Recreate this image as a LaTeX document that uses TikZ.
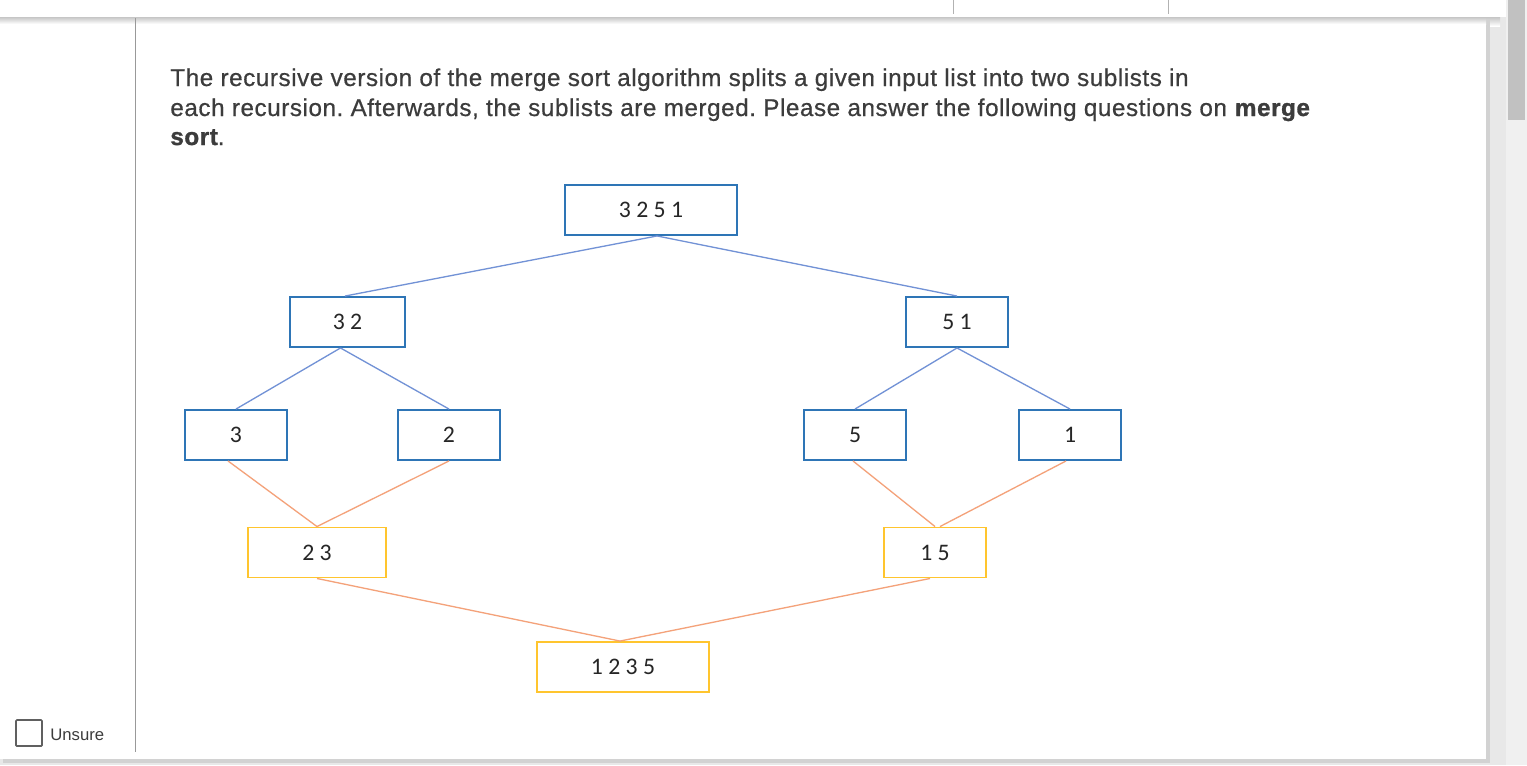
\documentclass[tikz,border=0pt]{standalone}
\usepackage{fontspec}
\setmainfont{Liberation Sans}
\newfontfamily\prosefont[LetterSpace=2.3, FakeBold=0.6, BoldFeatures={FakeBold=1.2}]{Liberation Sans}
\newfontfamily\boxfont{Carlito}
\definecolor{BOXBLUE}{HTML}{2E75B6}
\definecolor{BOXYELLOW}{HTML}{FFC52E}
\definecolor{SPLITLINE}{HTML}{7292D6}
\definecolor{MERGELINE}{HTML}{F4A27A}
\definecolor{TEXTGREY}{HTML}{3C3C3C}
\definecolor{SCROLLBG}{HTML}{F0F0F0}
\definecolor{SCROLLTHUMB}{HTML}{C1C1C1}
\frenchspacing

\tikzset{
  listbox/.style={line width=1.1pt, minimum height=1cm, inner sep=0pt,
    font=\boxfont\fontsize{13.5}{14}\selectfont, text=black!85},
  splitbox/.style={listbox, draw=BOXBLUE},
  mergebox/.style={listbox, draw=BOXYELLOW},
  splitline/.style={SPLITLINE, line width=0.75pt},
  mergeline/.style={MERGELINE, line width=0.75pt},
  prose/.style={anchor=base west, inner sep=0pt, text=TEXTGREY,
    font=\prosefont\fontsize{13.8}{15}\selectfont}
}

\begin{document}
\begin{tikzpicture}[x=0.02cm, y=-0.02cm]
  \useasboundingbox (0,0) rectangle (1527,765);
  % page frame
  \fill[gray!18] (0,0) rectangle (1527,765);
  \fill[white] (0,0) rectangle (1507,17);
  \shade[top color=gray!45, bottom color=white] (0,17) rectangle (1500,26);
  \fill[gray!35] (3,20) rectangle (1490,763);
  \fill[white] (0,18) rectangle (1486,759);
  \shade[top color=gray!45, bottom color=white] (0,17) rectangle (1486,24);
  \draw[gray!60, line width=0.4pt] (953,0) -- (953,14);
  \draw[gray!60, line width=0.4pt] (1168,0) -- (1168,14);
  \draw[gray!80, line width=0.5pt] (135,18) -- (135,752);
  \fill[SCROLLBG] (1506,0) rectangle (1527,765);
  \fill[SCROLLTHUMB] (1508,0) rectangle (1525,120);

  % question text
  \node[prose] (line1) at (170,86) {The recursive version of the merge sort algorithm splits a given input list into two sublists in};
  \node[prose] (line2) at (170,116) {each recursion. Afterwards, the sublists are merged. Please answer the following questions on \textbf{merge}};
  \node[prose] (line3) at (170,145) {\textbf{sort}.};

  % split tree
  \node[splitbox, minimum width=3.44cm] (top) at (651,210) {3 2 5 1};
  \node[splitbox, minimum width=2.3cm] (left) at (347.5,322) {3 2};
  \node[splitbox, minimum width=2.04cm] (right) at (957,322) {5 1};
  \node[splitbox, minimum width=2.04cm] (three) at (236,435) {3};
  \node[splitbox, minimum width=2.04cm] (two) at (449,435) {2};
  \node[splitbox, minimum width=2.04cm] (five) at (855,435) {5};
  \node[splitbox, minimum width=2.04cm] (one) at (1070,435) {1};

  % merge tree
  \node[mergebox, minimum width=2.76cm] (lmerge) at (317,552.5) {2 3};
  \node[mergebox, minimum width=2.04cm] (rmerge) at (935,552.5) {1 5};
  \node[mergebox, minimum width=3.44cm] (sorted) at (623,667) {1 2 3 5};

  \draw[splitline] ([xshift=0.12cm]top.south) -- ([xshift=-0.05cm]left.north);
  \draw[splitline] ([xshift=0.12cm]top.south) -- (right.north);
  \draw[splitline] ([xshift=-0.14cm]left.south) -- (three.north);
  \draw[splitline] ([xshift=-0.14cm]left.south) -- (two.north);
  \draw[splitline] (right.south) -- (five.north);
  \draw[splitline] (right.south) -- (one.north);

  \draw[mergeline] ([xshift=-0.16cm]three.south) -- (lmerge.north);
  \draw[mergeline] (two.south) -- (lmerge.north);
  \draw[mergeline] ([xshift=-0.04cm]five.south) -- (rmerge.north);
  \draw[mergeline] ([xshift=-0.08cm]one.south) -- ([xshift=0.1cm]rmerge.north);
  \draw[mergeline] (lmerge.south) -- ([xshift=-0.06cm]sorted.north);
  \draw[mergeline] ([xshift=-0.1cm]rmerge.south) -- ([xshift=-0.06cm]sorted.north);

  % unsure checkbox
  \draw[gray!75!black, line width=0.9pt, rounded corners=0.5pt] (16,720) rectangle (42,746);
  \node[anchor=base west, inner sep=0pt, text=TEXTGREY, font=\fontsize{9.5}{11}\selectfont] (unsure) at (50,740) {Unsure};
\end{tikzpicture}
\end{document}
